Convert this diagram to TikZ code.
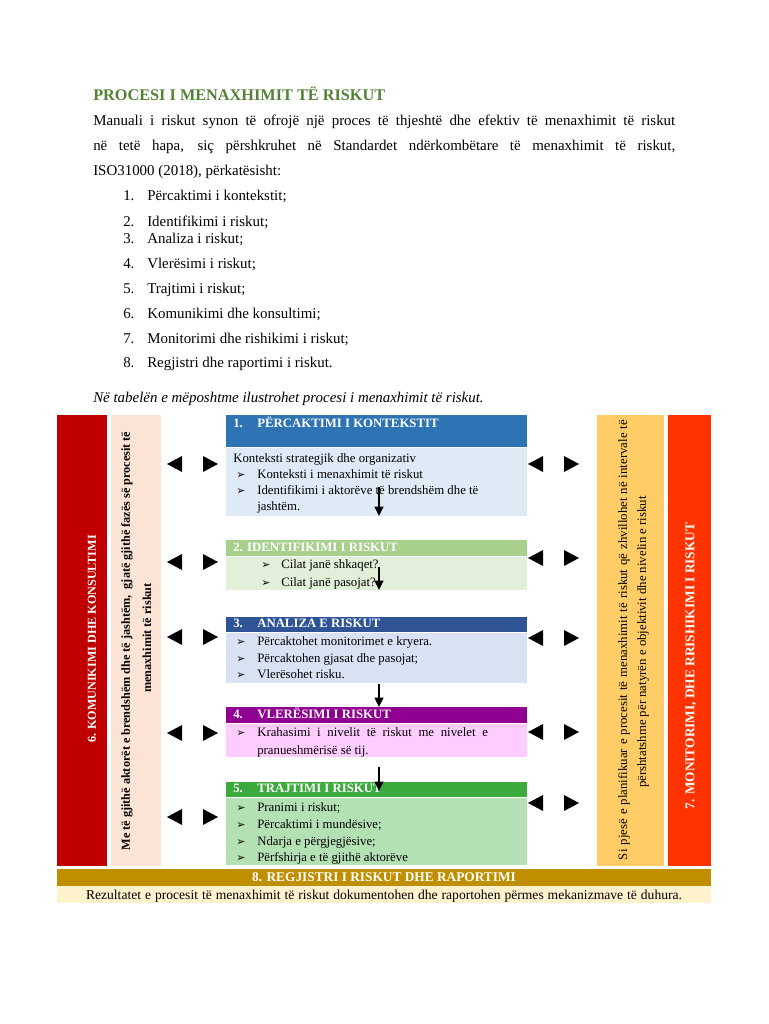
\documentclass[tikz,border=0pt]{standalone}
\usepackage{fontspec}
\setmainfont{Liberation Serif}
\newfontfamily\dejavu{DejaVu Sans}
\usetikzlibrary{arrows.meta}
\definecolor{titlegreen}{HTML}{538135}
\definecolor{barred}{HTML}{C00000}
\definecolor{peach}{HTML}{FBE4D5}
\definecolor{baryellow}{HTML}{FFCC66}
\definecolor{barorange}{HTML}{FF3300}
\definecolor{hA}{HTML}{2E74B5}\definecolor{bA}{HTML}{DEEAF6}
\definecolor{hB}{HTML}{A8D08D}\definecolor{bB}{HTML}{E2EFD9}
\definecolor{hC}{HTML}{2F5496}\definecolor{bC}{HTML}{D9E2F3}
\definecolor{hD}{HTML}{900090}\definecolor{bD}{HTML}{FFCCFF}
\definecolor{hE}{HTML}{3DAA3D}\definecolor{bE}{HTML}{B4E1B4}
\definecolor{hF}{HTML}{BF8F00}\definecolor{bF}{HTML}{FFF2CC}
\newcommand\bul{{\dejavu\fontsize{8.2}{9}\selectfont ➢}}
\newcommand\ltri[2]{\fill (#1,#2) -- ++(15,-8) -- ++(0,16) -- cycle;}
\newcommand\rtri[2]{\fill (#1,#2) -- ++(-15,-8) -- ++(0,16) -- cycle;}
\begin{document}
\begin{tikzpicture}[x=0.75pt,y=-0.75pt,
  body/.style={anchor=base west,inner sep=0pt,font=\fontsize{11.2}{13}\selectfont},
  sm/.style={anchor=base west,inner sep=0pt,font=\fontsize{9.6}{11}\selectfont},
  hd/.style={anchor=base west,inner sep=0pt,font=\bfseries\fontsize{9.6}{11}\selectfont,text=white},
  bl/.style={anchor=base west,inner sep=0pt},
  vt/.style={rotate=90,inner sep=0pt},
  darr/.style={line width=1.1pt,-{Triangle[length=7pt,width=6.5pt]}}]
\useasboundingbox (0,0) rectangle (768,1024);
\fill[white] (0,0) rectangle (768,1024);
% ---------- text above ----------
\node[body,font=\bfseries\fontsize{12.2}{14}\selectfont,text=titlegreen] (title) at (93,100) {PROCESI I MENAXHIMIT TË RISKUT};
\node[body] (p1) at (93,125) {\makebox[436.5pt][s]{Manuali i riskut synon të ofrojë një proces të thjeshtë dhe efektiv të menaxhimit të riskut}};
\node[body] (p2) at (93,150) {\makebox[436.5pt][s]{në tetë hapa, siç përshkruhet në Standardet ndërkombëtare të menaxhimit të riskut,}};
\node[body] (p3) at (93,175) {ISO31000 (2018), përkatësisht:};
\foreach \n/\y/\t in {1/200/{Përcaktimi i kontekstit;},2/226/{Identifikimi i riskut;},3/243/{Analiza i riskut;},4/268/{Vlerësimi i riskut;},5/293/{Trajtimi i riskut;},6/318/{Komunikimi dhe konsultimi;},7/343/{Monitorimi dhe rishikimi i riskut;},8/367/{Regjistri dhe raportimi i riskut.}}{
  \node[body] (ln\n) at (123,\y) {\n.};
  \node[body] (lt\n) at (147,\y) {\t};
}
\node[body,font=\itshape\fontsize{11.2}{13}\selectfont] (intro) at (93,402) {Në tabelën e mëposhtme ilustrohet procesi i menaxhimit të riskut.};
% ---------- side bars ----------
\fill[barred] (57,415) rectangle (107,866);
\fill[peach] (111,415) rectangle (161,866);
\fill[baryellow] (597,415) rectangle (664,866);
\fill[barorange] (668,415) rectangle (711,866);
\node[vt,font=\bfseries\fontsize{9.1}{11}\selectfont,text=white] (s6) at (92,639) {6. KOMUNIKIMI DHE KONSULTIMI};
\node[vt,font=\bfseries\fontsize{9.2}{10}\selectfont] (pa) at (127,641) {\makebox[314pt][s]{Me të gjithë aktorët e brendshëm dhe të jashtëm,\ \ gjatë gjithë fazës së procesit të}};
\node[vt,font=\bfseries\fontsize{9.2}{10}\selectfont] (pb) at (147,638) {menaxhimit të riskut};
\node[vt,font=\fontsize{9.6}{10}\selectfont] (ya) at (624,640) {\makebox[330pt][s]{Si pjesë e planifikuar e procesit të menaxhimit të riskut që zhvillohet në intervale të}};
\node[vt,font=\fontsize{9.6}{10}\selectfont] (yb) at (643,642) {përshtatshme për natyrën e objektivit dhe nivelin e riskut};
\node[vt,font=\bfseries\fontsize{10}{11}\selectfont,text=white] (s7) at (691,666) {7. MONITORIMI, DHE RRISHIKIMI I RISKUT};
% ---------- central boxes ----------
\fill[hA] (226,415) rectangle (527,447);
\fill[bA] (226,448) rectangle (527,516);
\fill[hB] (226,540) rectangle (527,556);
\fill[bB] (226,557) rectangle (527,590);
\fill[hC] (226,617) rectangle (527,632);
\fill[bC] (226,633) rectangle (527,683);
\fill[hD] (226,707) rectangle (527,723);
\fill[bD] (226,724) rectangle (527,757);
\fill[hE] (226,782) rectangle (527,797);
\fill[bE] (226,798) rectangle (527,865);
% box 1
\node[hd] (h1n) at (233,427) {1.};
\node[hd] (h1) at (257,427) {PËRCAKTIMI I KONTEKSTIT};
\node[sm] (b1a) at (233,462) {Konteksti strategjik dhe organizativ};
\node[bl] (u1b) at (236,478) {\bul};
\node[sm] (b1b) at (257,478) {Konteksti i menaxhimit të riskut};
\node[bl] (u1c) at (236,494) {\bul};
\node[sm] (b1c) at (257,494) {Identifikimi i aktorëve të brendshëm dhe të};
\node[sm] (b1d) at (257,510) {jashtëm.};
% box 2
\node[hd] (h2) at (233,551) {2. IDENTIFIKIMI I RISKUT};
\node[bl] (u2a) at (261,568) {\bul};
\node[sm] (b2a) at (281,568) {Cilat janë shkaqet?};
\node[bl] (u2b) at (261,586) {\bul};
\node[sm] (b2b) at (281,586) {Cilat janë pasojat?};
% box 3
\node[hd] (h3n) at (233,627) {3.};
\node[hd] (h3) at (257,627) {ANALIZA E RISKUT};
\node[bl] (u3a) at (236,645) {\bul};
\node[sm] (b3a) at (257,645) {Përcaktohet monitorimet e kryera.};
\node[bl] (u3b) at (236,662) {\bul};
\node[sm] (b3b) at (257,662) {Përcaktohen gjasat dhe pasojat;};
\node[bl] (u3c) at (236,678) {\bul};
\node[sm] (b3c) at (257,678) {Vlerësohet risku.};
% box 4
\node[hd] (h4n) at (233,718) {4.};
\node[hd] (h4) at (257,718) {VLERËSIMI I RISKUT};
\node[bl] (u4a) at (236,736) {\bul};
\node[sm] (b4a) at (257,736) {\makebox[173pt][s]{Krahasimi i nivelit të riskut me nivelet e}};
\node[sm] (b4b) at (257,754) {pranueshmërisë së tij.};
% box 5
\node[hd] (h5n) at (233,792) {5.};
\node[hd] (h5) at (257,792) {TRAJTIMI I RISKUT};
\foreach \k/\y/\t in {a/811/{Pranimi i riskut;},b/828/{Përcaktimi i mundësive;},c/845/{Ndarja e përgjegjësive;},d/861/{Përfshirja e të gjithë aktorëve}}{
  \node[bl] (u5\k) at (236,\y) {\bul};
  \node[sm] (b5\k) at (257,\y) {\t};
}
% ---------- bottom band ----------
\fill[hF] (57,869) rectangle (711,886);
\fill[bF] (57,886) rectangle (711,903);
\node[anchor=base,inner sep=0pt,font=\bfseries\fontsize{10}{11}\selectfont,text=white] (reg) at (384,881) {8. REGJISTRI I RISKUT DHE RAPORTIMI};
\node[anchor=base,inner sep=0pt,font=\fontsize{10.2}{11}\selectfont] (rez) at (384,899) {\makebox[447pt][s]{Rezultatet e procesit të menaxhimit të riskut dokumentohen dhe raportohen përmes mekanizmave të duhura.}};
% ---------- double triangles ----------
\foreach \y in {464,562,637,733,817}{\ltri{167}{\y}\rtri{218}{\y}}
\foreach \y in {464,558,638,732,803}{\ltri{528}{\y}\rtri{579}{\y}}
% ---------- down arrows ----------
\coordinate (a1s) at (379,487); \coordinate (a1e) at (379,516);
\coordinate (a2s) at (379,567); \coordinate (a2e) at (379,590);
\coordinate (a3s) at (379,684); \coordinate (a3e) at (379,707);
\coordinate (a4s) at (379,767); \coordinate (a4e) at (379,791);
\draw[darr] (a1s) -- (a1e);
\draw[darr] (a2s) -- (a2e);
\draw[darr] (a3s) -- (a3e);
\draw[darr] (a4s) -- (a4e);
\end{tikzpicture}
\end{document}
